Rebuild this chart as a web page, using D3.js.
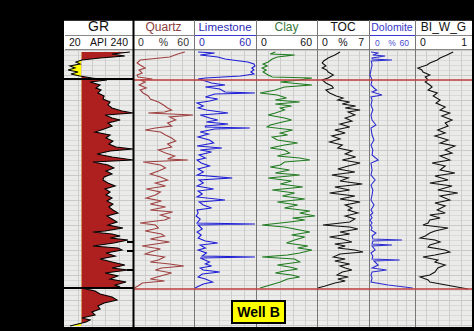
<!DOCTYPE html>
<html><head><meta charset="utf-8">
<script src="https://cdn.jsdelivr.net/npm/d3@7"></script>
<style>html,body{margin:0;padding:0;background:#000;}svg{display:block}</style>
</head><body><svg id="c" width="474" height="331"></svg>
<script>
// ---------- data ----------
const trackNames  = ["GR","Quartz","Limestone","Clay","TOC","Dolomite","BI_W_G"];
const scaleLeft   = ["20","0","0","0","0","0","0"];
const scaleMid    = ["API","%","","","%","%",""];
const scaleRight  = ["240","60","60","60","7","60","1"];
const trackMin    = [20,0,0,0,0,0,0];
const trackMax    = [240,60,60,60,7,60,1];
const grCutoff = 75;
const formationTops = [29, 238];
const coreMarks = [192, 201, 220];
const wellLabel = "Well B";

// [depth, value]
const grLog = [[2,230],[4,173],[6,214],[8,135],[10,77],[12,58],[14,71],[16,39],[18,55],[20,33],[22,65],[24,42],[26,71],[28,109],[30,157],[32,103],[35,135],[38,122],[40,138],[43,128],[46,148],[49,144],[52,167],[55,160],[58,173],[61,205],[63,240],[65,151],[68,173],[70,199],[73,160],[76,173],[79,148],[82,119],[85,167],[88,154],[91,176],[94,163],[97,186],[99,240],[101,167],[104,125],[107,173],[110,240],[112,112],[115,160],[118,179],[121,154],[124,173],[127,148],[130,144],[133,160],[136,183],[139,151],[142,167],[145,154],[148,173],[151,157],[154,176],[157,163],[160,176],[163,192],[166,157],[169,173],[172,189],[175,160],[178,208],[181,151],[182,112],[184,173],[186,199],[188,167],[190,224],[193,179],[196,112],[198,192],[200,205],[203,154],[206,183],[209,135],[212,173],[215,214],[218,173],[220,224],[223,151],[226,192],[229,167],[232,218],[235,183],[237,199],[239,87],[241,119],[244,135],[247,173],[250,189],[253,148],[256,128],[259,135],[262,109],[265,119],[268,77],[270,103],[272,90],[274,65],[276,39]];

const quartzLog = [[2,51],[4,44],[7,36],[9,17],[10,7],[13,4],[15,7],[18,12],[20,6],[23,9],[25,4],[27,5],[29,19],[30,7],[32,12],[35,6],[38,13],[40,7],[43,10],[46,15],[49,17],[52,25],[55,30],[58,34],[60,38],[62,31],[63,15],[65,59],[67,36],[70,42],[73,34],[76,38],[78,22],[80,12],[82,27],[85,32],[88,38],[91,42],[94,34],[97,38],[100,25],[103,32],[106,41],[109,34],[110,54],[112,10],[115,27],[118,32],[121,25],[124,17],[127,27],[130,34],[133,22],[136,32],[139,13],[142,27],[145,22],[148,13],[151,28],[154,17],[157,32],[160,17],[162,39],[165,27],[168,36],[170,31],[173,7],[175,22],[178,25],[181,12],[184,28],[186,31],[189,17],[192,36],[194,22],[196,9],[199,27],[202,17],[204,12],[207,31],[210,25],[212,17],[214,36],[216,50],[218,28],[220,22],[223,38],[226,27],[229,17],[231,31],[233,9],[236,5],[238,1]];

const limestoneLog = [[2,4],[3,20],[5,6],[7,23],[9,30],[10,37],[12,52],[14,58],[16,59],[18,56],[20,58],[22,55],[24,58],[26,45],[28,11],[29,4],[31,11],[33,17],[35,30],[37,11],[39,25],[42,30],[43,59],[44,20],[47,11],[49,23],[51,15],[53,3],[56,9],[58,4],[60,12],[63,33],[65,6],[68,15],[70,23],[72,12],[74,33],[76,11],[77,11],[78,54],[79,20],[82,6],[84,14],[87,4],[90,15],[93,19],[96,3],[98,27],[100,6],[102,17],[105,5],[108,11],[110,3],[113,7],[116,15],[119,4],[122,9],[125,3],[128,37],[130,5],[133,9],[136,3],[139,19],[141,4],[144,8],[147,3],[150,30],[152,5],[155,9],[158,17],[160,3],[163,4],[166,2],[169,6],[173,3],[174,59],[175,4],[179,8],[182,3],[185,7],[188,4],[191,11],[193,23],[195,6],[198,11],[200,4],[203,12],[206,8],[207,59],[208,6],[212,15],[214,11],[216,17],[218,6],[220,9],[222,25],[224,8],[227,4],[229,11],[232,18],[234,9],[238,1]];

const clayLog = [[2,19],[4,14],[5,38],[7,21],[9,16],[12,12],[14,7],[16,11],[18,6],[20,10],[22,7],[25,12],[27,16],[28,55],[30,43],[32,24],[35,55],[37,28],[40,19],[43,4],[45,21],[48,30],[50,19],[52,43],[54,19],[56,35],[58,24],[60,28],[63,19],[65,12],[68,28],[70,35],[72,26],[75,14],[77,11],[80,36],[83,24],[85,31],[87,16],[90,21],[93,41],[95,28],[98,14],[100,28],[103,33],[106,21],[108,43],[110,53],[112,28],[115,24],[117,14],[120,33],[123,19],[125,43],[128,12],[131,35],[134,24],[137,46],[140,16],[143,38],[146,26],[149,48],[152,21],[155,41],[158,28],[161,53],[163,43],[166,58],[168,36],[170,48],[172,33],[175,6],[177,28],[180,43],[182,53],[185,35],[187,48],[190,38],[193,30],[196,51],[198,41],[200,55],[203,43],[205,31],[207,6],[209,38],[212,43],[214,28],[215,21],[217,33],[219,41],[221,28],[223,19],[225,35],[227,43],[229,31],[232,24],[235,14],[238,4]];

const tocLog = [[2,3.1],[5,2.4],[8,1.5],[11,0.9],[13,0.7],[16,1.2],[18,0.7],[20,1.3],[22,1.5],[25,2.2],[28,1.5],[30,0.7],[33,1.2],[36,2.0],[38,2.2],[40,1.2],[43,1.7],[46,2.6],[48,3.5],[50,2.8],[52,4.4],[54,3.4],[56,5.2],[58,3.8],[60,5.8],[62,4.2],[65,5.1],[68,3.8],[71,4.7],[74,3.1],[77,4.4],[80,2.4],[83,3.8],[86,2.0],[89,3.1],[92,1.7],[95,3.4],[98,2.8],[101,4.7],[104,3.8],[107,5.2],[110,3.4],[113,5.8],[116,4.2],[119,2.8],[122,5.1],[125,2.0],[128,4.2],[131,3.1],[134,6.1],[137,2.4],[140,4.4],[143,1.7],[146,5.1],[149,3.1],[152,5.8],[155,3.8],[158,4.7],[160,4.2],[163,5.5],[166,3.8],[169,5.1],[172,4.4],[175,0.8],[177,4.4],[179,5.5],[182,3.1],[184,4.4],[187,1.7],[189,3.4],[192,4.7],[194,2.4],[196,3.8],[198,2.8],[200,5.1],[202,6.2],[204,3.1],[207,2.2],[209,3.8],[211,2.4],[214,4.4],[216,3.1],[218,3.8],[220,4.7],[222,3.4],[225,2.7],[227,4.2],[229,2.8],[231,3.8],[233,2.4],[236,1.1],[238,0.1]];

const dolomiteLog = [[2,2.6],[3,12],[5,5],[6,21],[8,4],[9,4],[10,30],[11,3],[15,4],[20,2.6],[25,1.3],[30,4],[35,2.6],[38,6.5],[40,10],[42,4],[45,17],[47,2.6],[50,4],[55,2.6],[60,5],[65,2.6],[70,4],[75,9],[78,2.6],[85,4],[90,6.5],[95,2.6],[100,5],[105,4],[110,12],[113,2.6],[120,4],[125,2.6],[130,8],[135,2.6],[140,5],[145,4],[150,2.6],[155,6.5],[160,2.6],[163,5],[165,2],[168,4],[170,1.3],[173,4],[175,2],[178,4],[180,2.6],[183,9],[186,4],[189,5],[190,43],[191,5],[194,4],[195,30],[196,4],[200,8],[203,2.6],[206,5],[209,4],[210,40],[211,6.5],[215,12],[218,4],[220,23],[222,4],[225,2.6],[228,4],[232,2.6],[235,25],[238,57]];

const biLog = [[2,.67],[5,.56],[8,.44],[10,.39],[13,.26],[15,.21],[18,.05],[20,.12],[22,.14],[25,.26],[27,.18],[30,.23],[32,.18],[35,.26],[37,.30],[40,.23],[43,.39],[46,.32],[50,.44],[53,.37],[57,.53],[60,.44],[63,.61],[66,.47],[70,.65],[73,.53],[76,.58],[80,.40],[83,.53],[86,.35],[90,.58],[93,.44],[96,.70],[100,.53],[103,.65],[106,.44],[110,.61],[113,.30],[116,.53],[120,.44],[123,.70],[126,.35],[130,.58],[133,.26],[136,.65],[140,.40],[143,.75],[146,.44],[150,.61],[153,.35],[156,.53],[160,.39],[163,.53],[165,.26],[168,.44],[170,.26],[173,.23],[175,.14],[178,.58],[181,.35],[183,.26],[186,.18],[188,.09],[190,.35],[192,.44],[195,.26],[197,.23],[200,.53],[202,.61],[205,.35],[207,.14],[210,.40],[212,.35],[215,.53],[218,.40],[222,.35],[225,.26],[227,.09],[230,.23],[232,.26],[239,.93]];

// ---------- layout ----------
const svg = d3.select("#c");
const FONT = "Liberation Sans, Arial, sans-serif";
const trackX = [64,133,194,256,317,369,415,472];
const headTop = 20, headMid = 35, gridTop = 50, gridBot = 327;
const y = d3.scaleLinear().domain([0,277]).range([gridTop, gridBot]);
const xs = trackNames.map((n,i)=>d3.scaleLinear().domain([trackMin[i],trackMax[i]]).range([trackX[i],trackX[i+1]]));
const titleColor = ["#111","#8c3b3b","#2b2bb8","#3c7a3c","#111","#3535c8","#111"];
const titleSize  = [14,12,11.5,12,12,10.5,12];
const scaleColor = ["#111","#333","#2b2bb8","#111","#111","#4a4ad0","#111"];
const curveColor = [null,"#9e4141","#1d1dd6","#1f7a1f","#111","#2f2fd0","#111"];
const underline  = ["#888","#888","#3a3ad0","#888","#888","#3a3ad0","#888"];

// header
svg.append("rect").attr("x",64).attr("y",headTop).attr("width",408).attr("height",gridTop-headTop).attr("fill","#fff");
// grid background
svg.append("rect").attr("x",64).attr("y",gridTop).attr("width",408).attr("height",gridBot-gridTop).attr("fill","#ebebe9");

// horizontal grid lines
const hTicks = d3.range(0,278,5);
svg.append("g").selectAll("line").data(hTicks).join("line")
  .attr("x1",64).attr("x2",472).attr("y1",d=>Math.round(y(d))+0.5).attr("y2",d=>Math.round(y(d))+0.5)
  .attr("stroke",d=>d%25===0?"#c9c9c9":"#d9d9d9").attr("stroke-width",1);
// vertical grid lines
trackNames.forEach((n,i)=>{
  const t = d3.range(1,5).map(k=>trackX[i]+k*(trackX[i+1]-trackX[i])/5);
  svg.append("g").selectAll("line").data(t).join("line")
   .attr("x1",d=>Math.round(d)+0.5).attr("x2",d=>Math.round(d)+0.5).attr("y1",gridTop).attr("y2",gridBot)
   .attr("stroke","#cdcdcd");
});

// header lines and texts
svg.append("line").attr("x1",64).attr("x2",472).attr("y1",headTop+0.5).attr("y2",headTop+0.5).attr("stroke","#333");
trackNames.forEach((n,i)=>{
  const x0=trackX[i], x1=trackX[i+1], cx=(x0+x1)/2;
  svg.append("line").attr("x1",x0+1).attr("x2",x1).attr("y1",headMid+0.5).attr("y2",headMid+0.5).attr("stroke",underline[i]);
  svg.append("line").attr("x1",x0+1).attr("x2",x1).attr("y1",gridTop-0.5).attr("y2",gridTop-0.5).attr("stroke","#888");
  const small = n==="Dolomite";
  svg.append("text").attr("x",cx).attr("y",headMid-4).attr("text-anchor","middle")
    .attr("font-family",FONT).attr("font-size", titleSize[i])
    .attr("fill",titleColor[i]).text(n);
  const fs = small?8.5:10.5;
  const g = svg.append("g").attr("font-family",FONT).attr("font-size",fs).attr("fill",scaleColor[i]);
  g.append("text").attr("x",x0+(small?6:5)).attr("y",gridTop-4).text(scaleLeft[i]);
  g.append("text").attr("x",cx).attr("y",gridTop-4).attr("text-anchor","middle").text(scaleMid[i]);
  g.append("text").attr("x",x1-(small?6:5)).attr("y",gridTop-4).attr("text-anchor","end").text(scaleRight[i]);
});
// track separators
trackX.slice(2,7).forEach(x=>{
  svg.append("line").attr("x1",x+0.5).attr("x2",x+0.5).attr("y1",headTop).attr("y2",gridBot).attr("stroke","#777");
});

// GR fill
const grLine = d3.line().x(d=>xs[0](d[1])).y(d=>y(d[0]));
const grArea = d3.area().x0(xs[0](grCutoff)).x1(d=>xs[0](d[1])).y(d=>y(d[0]));
const defs = svg.append("defs");
defs.append("clipPath").attr("id","hi").append("rect").attr("x",xs[0](grCutoff)).attr("y",gridTop).attr("width",trackX[1]-xs[0](grCutoff)).attr("height",gridBot-gridTop);
defs.append("clipPath").attr("id","lo").append("rect").attr("x",64).attr("y",gridTop).attr("width",xs[0](grCutoff)-64).attr("height",gridBot-gridTop);
svg.append("path").datum(grLog).attr("d",grArea).attr("fill","#ae1f1f").attr("clip-path","url(#hi)");
svg.append("path").datum(grLog).attr("d",grArea).attr("fill","#ffff00").attr("clip-path","url(#lo)");
svg.append("path").datum(grLog).attr("d",grLine).attr("fill","none").attr("stroke","#000").attr("stroke-width",1.1);

// other curves
const logs = [null, quartzLog, limestoneLog, clayLog, tocLog, dolomiteLog, biLog];
logs.forEach((lg,i)=>{
  if(!lg) return;
  const ln = d3.line().x(d=>xs[i](d[1])).y(d=>y(d[0]));
  svg.append("path").datum(lg).attr("d",ln).attr("fill","none").attr("stroke",curveColor[i]).attr("stroke-width",1.1);
});

// formation tops
formationTops.forEach(d=>{
  svg.append("line").attr("x1",64).attr("x2",133).attr("y1",y(d)).attr("y2",y(d)).attr("stroke","#000").attr("stroke-width",2);
  svg.append("line").attr("x1",134).attr("x2",472).attr("y1",y(d)+1).attr("y2",y(d)+1).attr("stroke","#c03c3c").attr("stroke-width",1.4);
});
// core marks at GR right edge
svg.append("g").selectAll("line").data(coreMarks).join("line")
  .attr("x1",127).attr("x2",133).attr("y1",d=>y(d)).attr("y2",d=>y(d)).attr("stroke","#000").attr("stroke-width",2);

// thick GR right border
svg.append("line").attr("x1",133.5).attr("x2",133.5).attr("y1",headTop-1).attr("y2",gridBot).attr("stroke","#000").attr("stroke-width",2);

// well label
const lb = svg.append("g");
lb.append("rect").attr("x",232).attr("y",301).attr("width",53).attr("height",22).attr("fill","#ffff00").attr("stroke","#000").attr("stroke-width",2);
lb.append("text").attr("x",258.5).attr("y",317).attr("text-anchor","middle").attr("font-family",FONT)
  .attr("font-weight","bold").attr("font-size",14).attr("fill","#000").text(wellLabel);
</script></body></html>
